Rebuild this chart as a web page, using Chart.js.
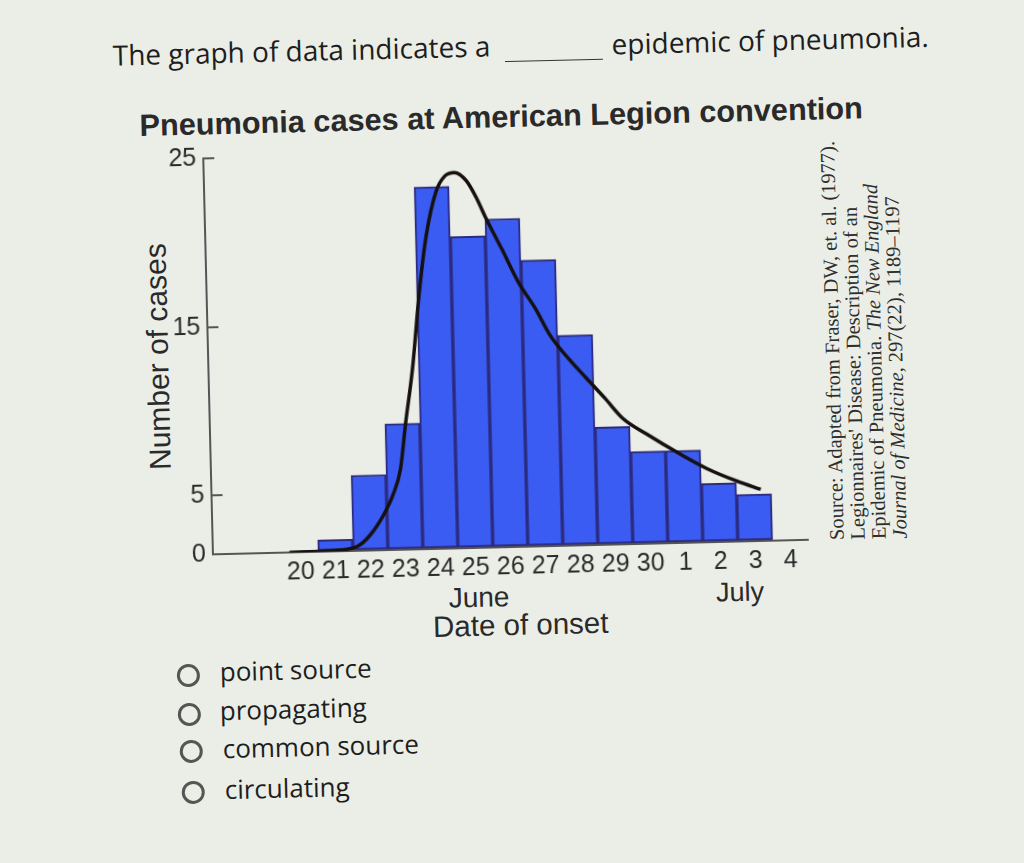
<!DOCTYPE html>
<html>
<head>
<meta charset="utf-8">
<script src="https://cdn.jsdelivr.net/npm/chart.js@4.4.0/dist/chart.umd.min.js"></script>
<style>
    html, body { margin: 0; padding: 0; }
    body { width: 1024px; height: 863px; overflow: hidden; background: #ebeee7; color: #222; }
    #page { position: absolute; left: 0; top: 0; width: 1024px; height: 863px; transform-origin: 512px 430px; transform: rotate(-1.4deg); }
    .abs { position: absolute; white-space: nowrap; }
    .q { font-family: "Open Sans", sans-serif; font-size: 28px; line-height: 38px; color: #1e1e1e; }
    .chartText { font-family: "Liberation Sans", Arial, sans-serif; color: #2a2a2a; }
    #source { font-family: "Liberation Serif", "Times New Roman", serif; font-size: 20.5px; line-height: 21px; color: #2e2e2e; transform-origin: 0 0; transform: rotate(-90deg); }
    .opt { font-family: "Open Sans", sans-serif; font-size: 26px; line-height: 34px; color: #1e1e1e; }
    .radio { position: absolute; width: 17px; height: 17px; border: 3px solid #555; border-radius: 50%; }
    #chartBox { position: absolute; left: 150px; top: 118px; width: 670px; height: 462px; }
</style>
</head>
<body>
<div id="page">
    <div class="abs q" style="left:122px; top:26px;">The graph of data indicates a</div>
    <div class="abs" style="left:514px; top:61px; width:98px; border-top:1.5px solid #333;"></div>
    <div class="abs q" style="left:621px; top:27px;">epidemic of pneumonia.</div>

    <div class="abs chartText" style="left:147px; top:100px; font-size:30.7px; font-weight:bold; line-height:34px;">Pneumonia cases at American Legion convention</div>
    <div class="abs chartText" style="left:160px; top:348px; font-size:30px; transform:translate(-50%,-50%) rotate(-90deg);">Number of cases</div>

    <div id="chartBox"><canvas id="grafico"></canvas></div>

    <div class="abs chartText" style="left:475px; top:597px; font-size:28px; transform:translate(-50%,-50%);">June</div>
    <div class="abs chartText" style="left:736px; top:598px; font-size:27px; transform:translate(-50%,-50%);">July</div>
    <div class="abs chartText" style="left:516px; top:625px; font-size:29.5px; transform:translate(-50%,-50%);">Date of onset</div>

    <div id="source" class="abs" style="left:824px; top:548px;">
        Source: Adapted from Fraser, DW, et. al. (1977).<br>
        Legionnaires' Disease: Description of an<br>
        Epidemic of Pneumonia. <i>The New England</i><br>
        <i>Journal of Medicine</i>, 297(22), 1189–1197
    </div>

    <div class="radio" style="left:171px; top:656px;"></div>
    <div class="abs opt" style="left:214px; top:647px;">point source</div>
    <div class="radio" style="left:171px; top:695px;"></div>
    <div class="abs opt" style="left:213px; top:686px;">propagating</div>
    <div class="radio" style="left:172px; top:732px;"></div>
    <div class="abs opt" style="left:215px; top:724px;">common source</div>
    <div class="radio" style="left:173px; top:773px;"></div>
    <div class="abs opt" style="left:216px; top:765px;">circulating</div>
</div>

<script>
// date of onset: two empty slots before June 20, July days after June 30
const dayLabels = ["", "", "20", "21", "22", "23", "24", "25", "26", "27", "28", "29", "30", "1", "2", "3", "4"];
const cases = [null, null, null, 1, 6, 9, 23, 20, 21, 18.5, 14, 8.5, 7, 7, 5, 4, null];

// fitted curve, x = day counted from June (July 1 = 31)
const fitDay = [18.9, 20.5, 21.1, 21.5, 21.95, 22.27, 22.53, 22.73, 23.0, 23.27, 23.54, 23.89, 24.18, 24.49, 24.87,
    25.2, 25.46, 25.96, 26.47, 27.0, 27.45, 28.07, 28.54, 29.16, 29.71, 30.49, 31.43, 32.37, 33.34, 34.09];
const fitCases = [0, 0.1, 0.4, 1.3, 3.0, 4.7, 6.3, 9.0, 12.3, 16.7, 20.1, 22.7, 23.6, 23.8, 23.3,
    22.2, 21.1, 19.2, 17.2, 15.6, 14.0, 12.5, 11.5, 10.2, 9.0, 8.0, 6.9, 5.9, 5.1, 4.4];

const yTicks = [0, 5, 15, 25];

// the printed axis squeezes 0-5 into a short step, then runs evenly 5-25
const yBreak = 5;
const yMax = 25;
const lowShare = 0.148;

class SplitScale extends Chart.LinearScale {
    getPixelForValue(value) {
        const dec = value <= yBreak
            ? (value / yBreak) * lowShare
            : lowShare + (value - yBreak) / (yMax - yBreak) * (1 - lowShare);
        return this.getPixelForDecimal(dec);
    }
    getValueForPixel(pixel) {
        const dec = this.getDecimalForPixel(pixel);
        return dec <= lowShare
            ? dec / lowShare * yBreak
            : yBreak + (dec - lowShare) / (1 - lowShare) * (yMax - yBreak);
    }
}
SplitScale.id = "split";
SplitScale.defaults = Chart.LinearScale.defaults;
Chart.register(SplitScale);

const axisColor = "#555";
const tickFont = { family: "Liberation Sans, Arial, sans-serif", size: 25 };

const ctx = document.getElementById("grafico").getContext("2d");
new Chart(ctx, {
    type: "bar",
    data: {
        labels: dayLabels,
        datasets: [
            {
                type: "line",
                label: "Fit",
                xAxisID: "xFit",
                data: fitDay.map((d, i) => ({ x: d, y: fitCases[i] })),
                borderColor: "#161010",
                borderWidth: 3.5,
                pointRadius: 0,
                tension: 0.4,
                cubicInterpolationMode: "monotone",
                fill: false
            },
            {
                label: "Cases",
                xAxisID: "x",
                data: cases,
                backgroundColor: "#3b5cf2",
                borderColor: "#2c2a7e",
                borderWidth: 2,
                borderSkipped: false,
                grouped: false,
                barPercentage: 1,
                categoryPercentage: 1
            }
        ]
    },
    options: {
        responsive: true,
        maintainAspectRatio: false,
        animation: false,
        layout: { padding: { left: 0, right: 15, top: 12, bottom: 0 } },
        plugins: { legend: { display: false }, tooltip: { enabled: false } },
        scales: {
            x: {
                type: "category",
                offset: true,
                grid: { drawOnChartArea: false, drawTicks: false },
                border: { display: true, color: axisColor, width: 2 },
                ticks: { color: "#2a2a2a", font: tickFont, padding: 5, maxRotation: 0, autoSkip: false },
                afterFit: (scale) => { scale.height = 33; }
            },
            xFit: {
                type: "linear",
                display: false,
                min: 17.5,
                max: 34.5
            },
            y: {
                type: "split",
                min: 0,
                max: yMax,
                afterBuildTicks: (scale) => { scale.ticks = yTicks.map(v => ({ value: v })); },
                grid: { drawOnChartArea: false, drawTicks: true, tickLength: -11, color: axisColor, lineWidth: 2 },
                border: { display: true, color: axisColor, width: 2 },
                ticks: { color: "#2a2a2a", font: tickFont, padding: 18 },
                afterFit: (scale) => { scale.width = 60; }
            }
        }
    }
});
</script>
</body>
</html>
